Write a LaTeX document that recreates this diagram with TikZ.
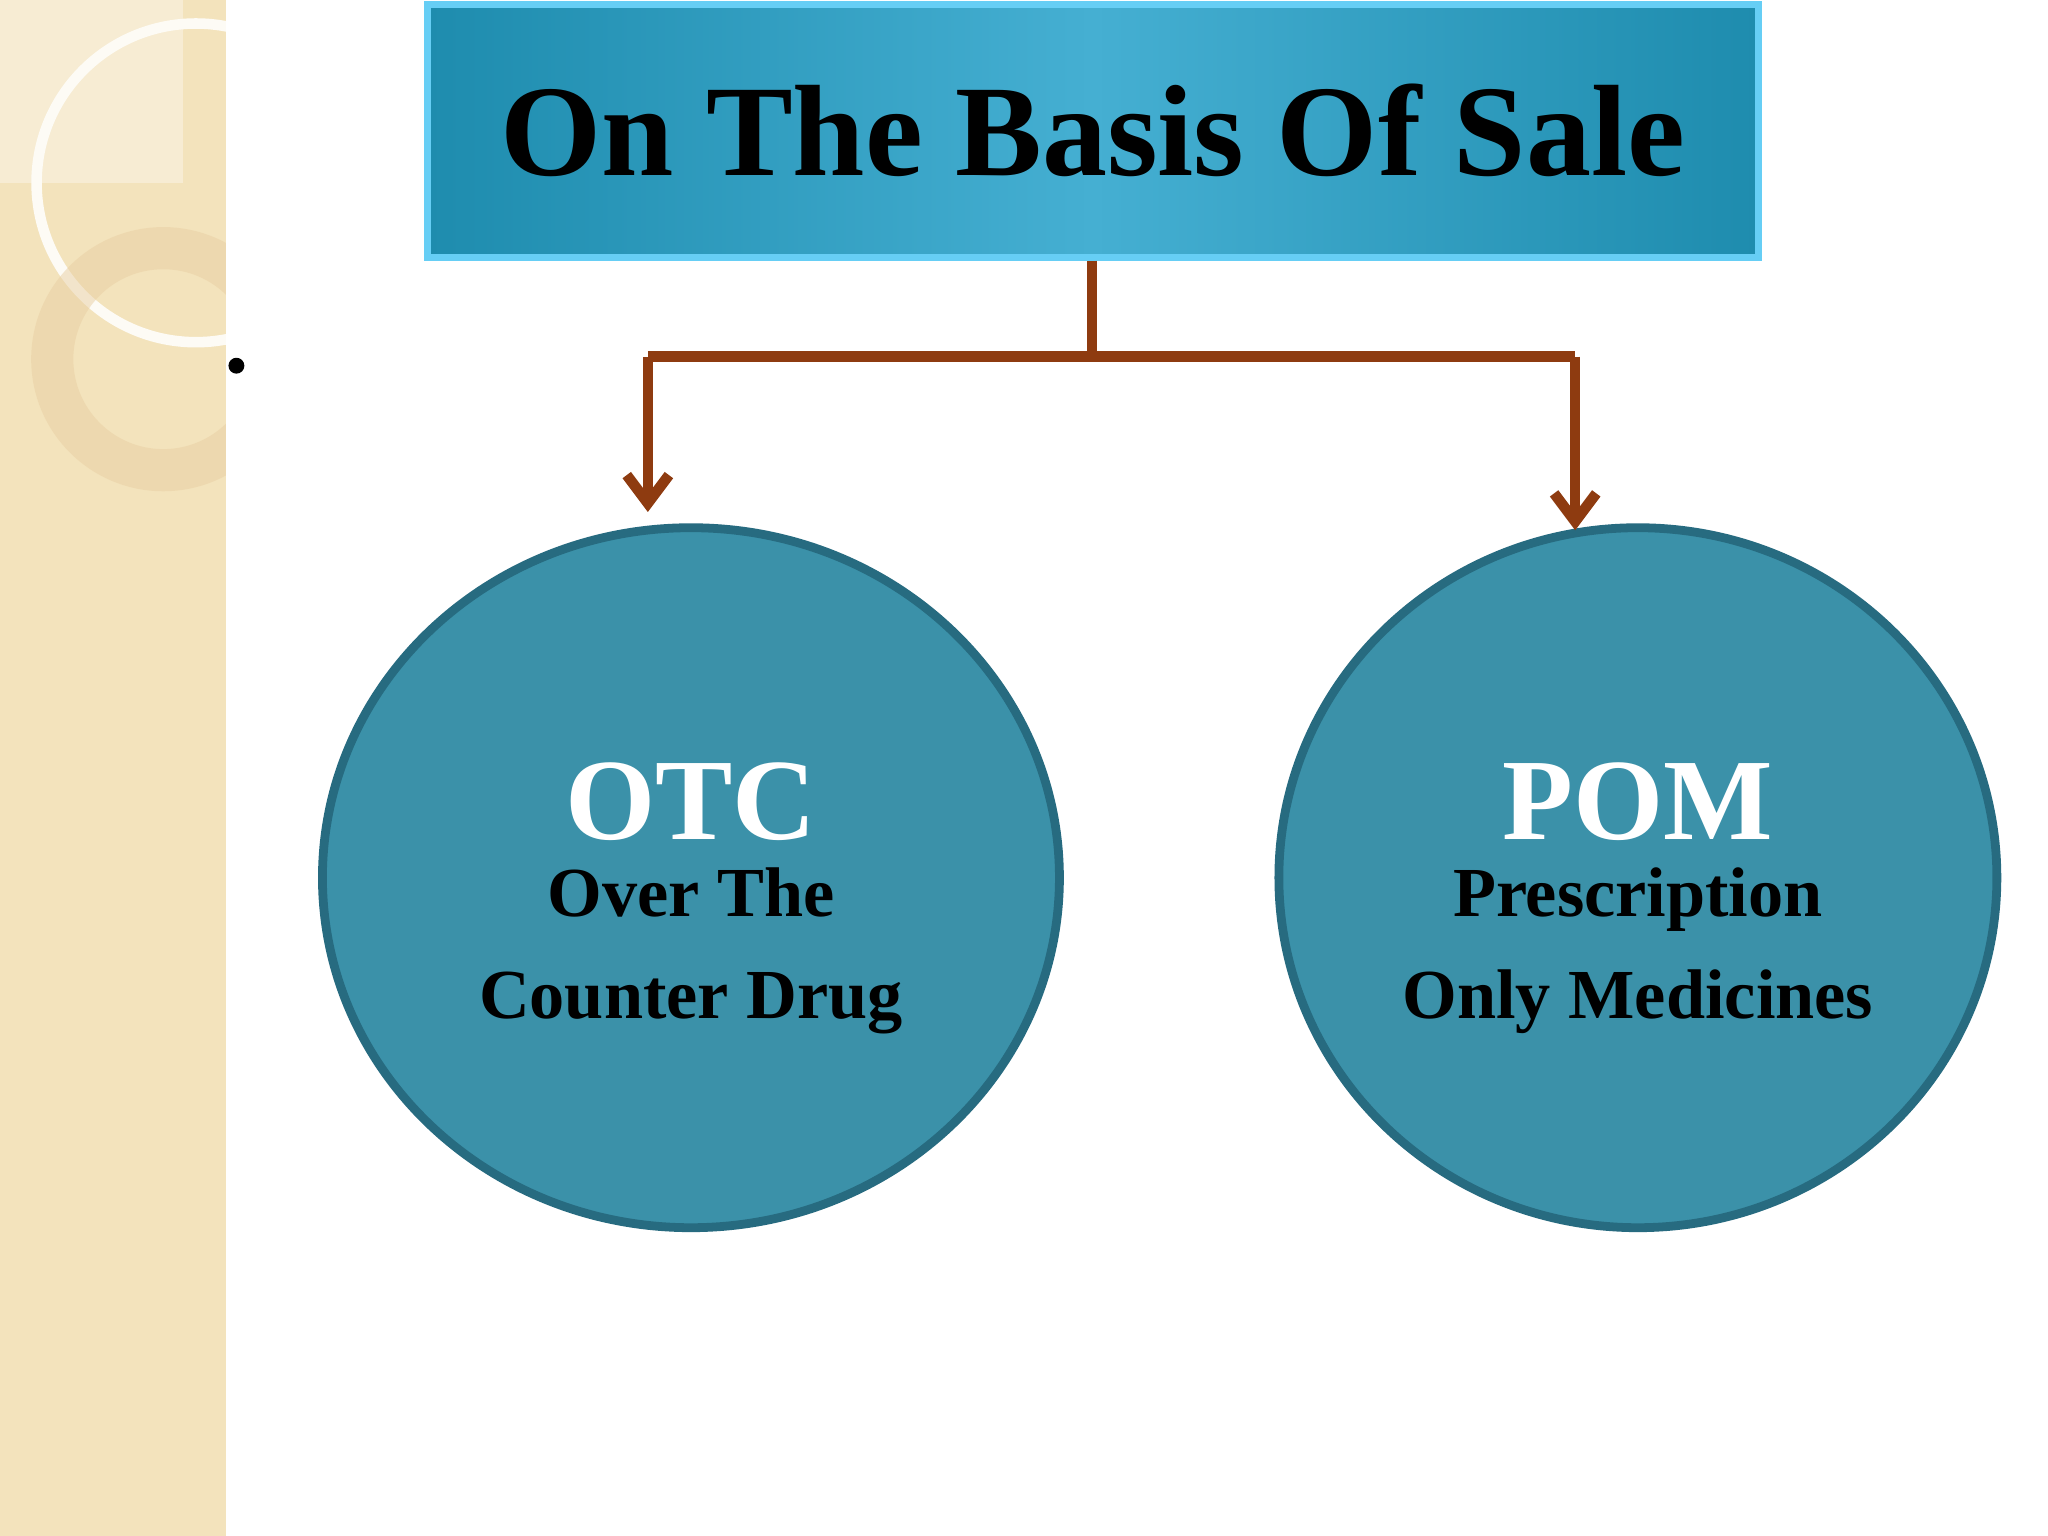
\documentclass[tikz,border=0pt]{standalone}
\usepackage{fontspec}
\setmainfont{Liberation Serif}
\usetikzlibrary{arrows.meta,shapes.geometric}
\definecolor{beige}{HTML}{F3E3BC}
\definecolor{circfill}{HTML}{3B91A9}
\definecolor{circedge}{HTML}{276B80}
\definecolor{boxA}{HTML}{1E8CAE}
\definecolor{boxB}{HTML}{45AFD2}
\definecolor{brownline}{HTML}{8E3B10}
\tikzset{
 bubble/.style={ellipse,fill=circfill,draw=circedge,line width=2.5pt},
 conn/.style={draw=brownline,line width=3pt},
 arr/.style={conn,-{Straight Barb[length=8pt,width=12pt]}},
 big/.style={text=white,font=\fontsize{33}{40}\selectfont\bfseries},
 small/.style={align=center,font=\fontsize{20}{29}\selectfont\bfseries}
}
\begin{document}
\begin{tikzpicture}[x=0.01306cm,y=-0.01306cm]
\useasboundingbox (0,0) rectangle (1568,1176);
\fill[white] (0,0) rectangle (1568,1176);
% side strip
\fill[beige] (0,0) rectangle (173,1176);
\fill[white,opacity=0.35] (0,0) rectangle (140,140);
\begin{scope}
\clip (0,0) rectangle (173,1176);
\draw[white!85!beige,line width=3pt] (150,140) circle (122);
\draw[beige!80!brown,opacity=0.5,line width=12pt] (125,275) circle (85);
\end{scope}
\node[circle,fill=black,inner sep=1.6pt] (dot) at (181,280) {};
% title
\node[draw=cyan!60,line width=2pt,left color=boxA,right color=boxA,middle color=boxB,
 minimum width=13.31cm,minimum height=2.53cm,
 font=\fontsize{37}{44}\selectfont\bfseries] (title) at (836.5,100) {On The Basis Of Sale};
% circles
\node[bubble,minimum width=7.37cm,minimum height=7.0cm] (otc) at (529,672) {};
\node[bubble,minimum width=7.18cm,minimum height=7.0cm] (pom) at (1254,672) {};
\node[big] (otct) at (529,614) {OTC};
\node[small] (otcs) at (529,728) {Over The\\Counter Drug};
\node[big] (pomt) at (1254,614) {POM};
\node[small] (poms) at (1254,728) {Prescription\\Only Medicines};
% connectors
\coordinate (j) at (836,273);
\coordinate (l) at (496,273);
\coordinate (r) at (1206,273);
\draw[conn] (title.south -| j) -- (j);
\draw[conn] (l) -- (r);
\draw[arr] (l) -- (496,392);
\draw[arr] (r) -- (1206,406);
\end{tikzpicture}
\end{document}
